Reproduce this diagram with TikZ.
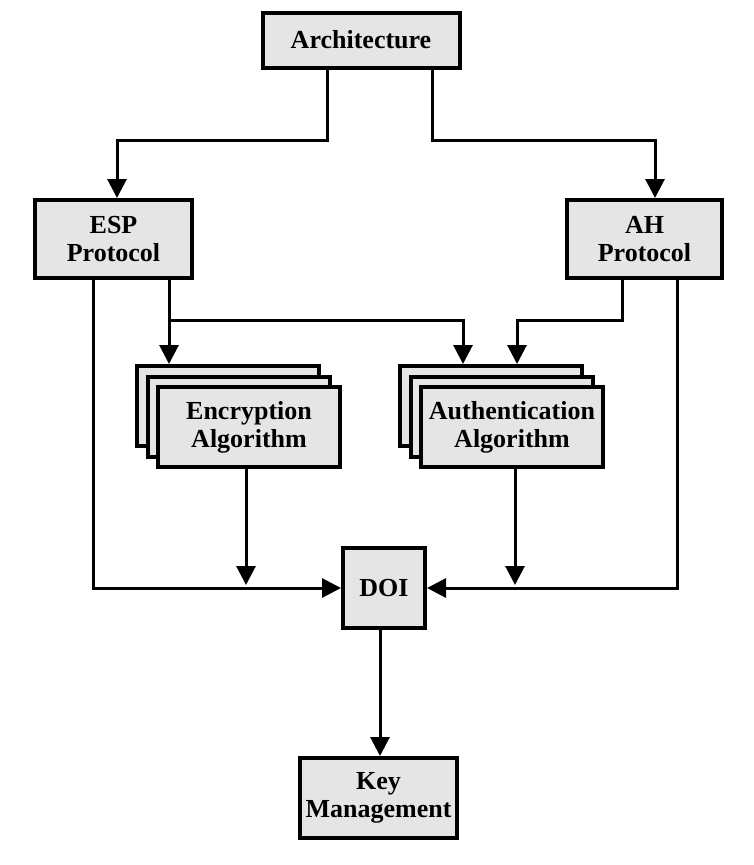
\documentclass[tikz,border=0pt]{standalone}
\usepackage{fontspec}
\setmainfont{Liberation Serif}
\usetikzlibrary{arrows.meta}
\begin{document}
\begin{tikzpicture}[x=1pt,y=-1pt,
 box/.style={draw,line width=4pt,fill=gray!20,align=center,inner sep=0pt,font=\fontsize{26}{28}\selectfont\bfseries},
 arr/.style={line width=3pt,-{Triangle[length=19pt,width=19pt]}},
 ln/.style={line width=3pt}]
\useasboundingbox (0,0) rectangle (753,865);
\node[box,minimum width=197pt,minimum height=55pt] (arch) at (361,40) {Architecture};
\node[box,minimum width=157pt,minimum height=78pt] (esp) at (113.5,239) {ESP\\Protocol};
\node[box,minimum width=155pt,minimum height=78pt] (ah) at (644.5,239) {AH\\Protocol};
\node[box,minimum width=182pt,minimum height=80pt] (enc3) at (228,406) {};
\node[box,minimum width=182pt,minimum height=80pt] (enc2) at (238.5,416.5) {};
\node[box,minimum width=182pt,minimum height=80pt] (enc) at (249,427) {Encryption\\Algorithm};
\node[box,minimum width=182pt,minimum height=80pt] (aut3) at (491,406) {};
\node[box,minimum width=182pt,minimum height=80pt] (aut2) at (501.5,416.5) {};
\node[box,minimum width=182pt,minimum height=80pt] (aut) at (512,427) {Authentication\\Algorithm};
\node[box,minimum width=82pt,minimum height=80pt] (doi) at (384,588) {DOI};
\node[box,minimum width=157pt,minimum height=80pt] (key) at (378.5,798) {Key\\Management};
\coordinate (jl) at (246,585);
\coordinate (jr) at (515,585);
\draw[arr] (arch.south -| 327,0) |- (117,140) -- (esp.north -| 117,0);
\draw[arr] (arch.south -| 432,0) |- (655,140) -- (ah.north -| 655,0);
\draw[arr] (esp.south -| 169,0) -- (enc3.north -| 169,0);
\draw[arr] (169,320) -| (aut3.north -| 463,0);
\draw[arr] (ah.south -| 622,0) |- (517,320) -- (aut3.north -| 517,0);
\draw[arr] (esp.south -| 93,0) |- (doi.west);
\draw[arr] (ah.south -| 677,0) |- (doi.east);
\draw[arr] (enc.south -| 246,0) -- (jl);
\draw[arr] (aut.south -| 515,0) -- (jr);
\draw[arr] (doi.south -| 380,0) -- (key.north -| 380,0);
\end{tikzpicture}
\end{document}
